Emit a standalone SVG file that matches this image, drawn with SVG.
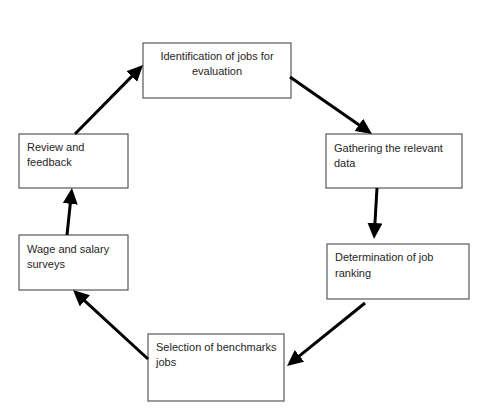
<svg xmlns="http://www.w3.org/2000/svg" width="500" height="415" viewBox="0 0 500 415">
<style>
.box{fill:#fff;stroke:#595959;stroke-width:1.2}
.t{font-family:"Liberation Sans",Arial,sans-serif;font-size:11px;fill:#262626}
.c{text-anchor:middle}
.arr{stroke:#000;stroke-width:3;fill:none;marker-end:url(#ah)}
</style>
<defs>
<marker id="ah" markerUnits="userSpaceOnUse" markerWidth="17" markerHeight="16" refX="6" refY="7.5" orient="auto" viewBox="0 0 17 16">
<path d="M0,0 L16,7.5 L0,15 z" fill="#000"/>
</marker>
</defs>
<rect width="500" height="415" fill="#fff"/>
<g id="n1"><rect class="box" x="143" y="43" width="148" height="55"/><text class="t c" x="217" y="59.5">Identification of jobs for</text><text class="t c" x="217" y="75">evaluation</text></g>
<g id="n2"><rect class="box" x="326" y="134" width="136" height="54"/><text class="t" x="334" y="151.5">Gathering the relevant</text><text class="t" x="334" y="166.5">data</text></g>
<g id="n3"><rect class="box" x="327" y="244" width="142" height="55"/><text class="t" x="335" y="261">Determination of job</text><text class="t" x="335" y="276.5">ranking</text></g>
<g id="n4"><rect class="box" x="148" y="334" width="136" height="67"/><text class="t" x="156" y="351">Selection of benchmarks</text><text class="t" x="156" y="366">jobs</text></g>
<g id="n5"><rect class="box" x="19" y="235" width="109" height="55"/><text class="t" x="27" y="252.5">Wage and salary</text><text class="t" x="27" y="268">surveys</text></g>
<g id="n6"><rect class="box" x="19" y="134" width="109" height="54"/><text class="t" x="27" y="150.5">Review and</text><text class="t" x="27" y="166">feedback</text></g>
<g id="connectors">
<line class="arr" x1="290" y1="77" x2="363.8" y2="128.3"/>
<line class="arr" x1="377" y1="188" x2="374.6" y2="229"/>
<line class="arr" x1="365" y1="303" x2="294.8" y2="359.7"/>
<line class="arr" x1="148" y1="359" x2="80.4" y2="296.8"/>
<line class="arr" x1="67" y1="235" x2="70.9" y2="197.9"/>
<line class="arr" x1="75" y1="134" x2="136" y2="72.1"/>
</g>
</svg>
